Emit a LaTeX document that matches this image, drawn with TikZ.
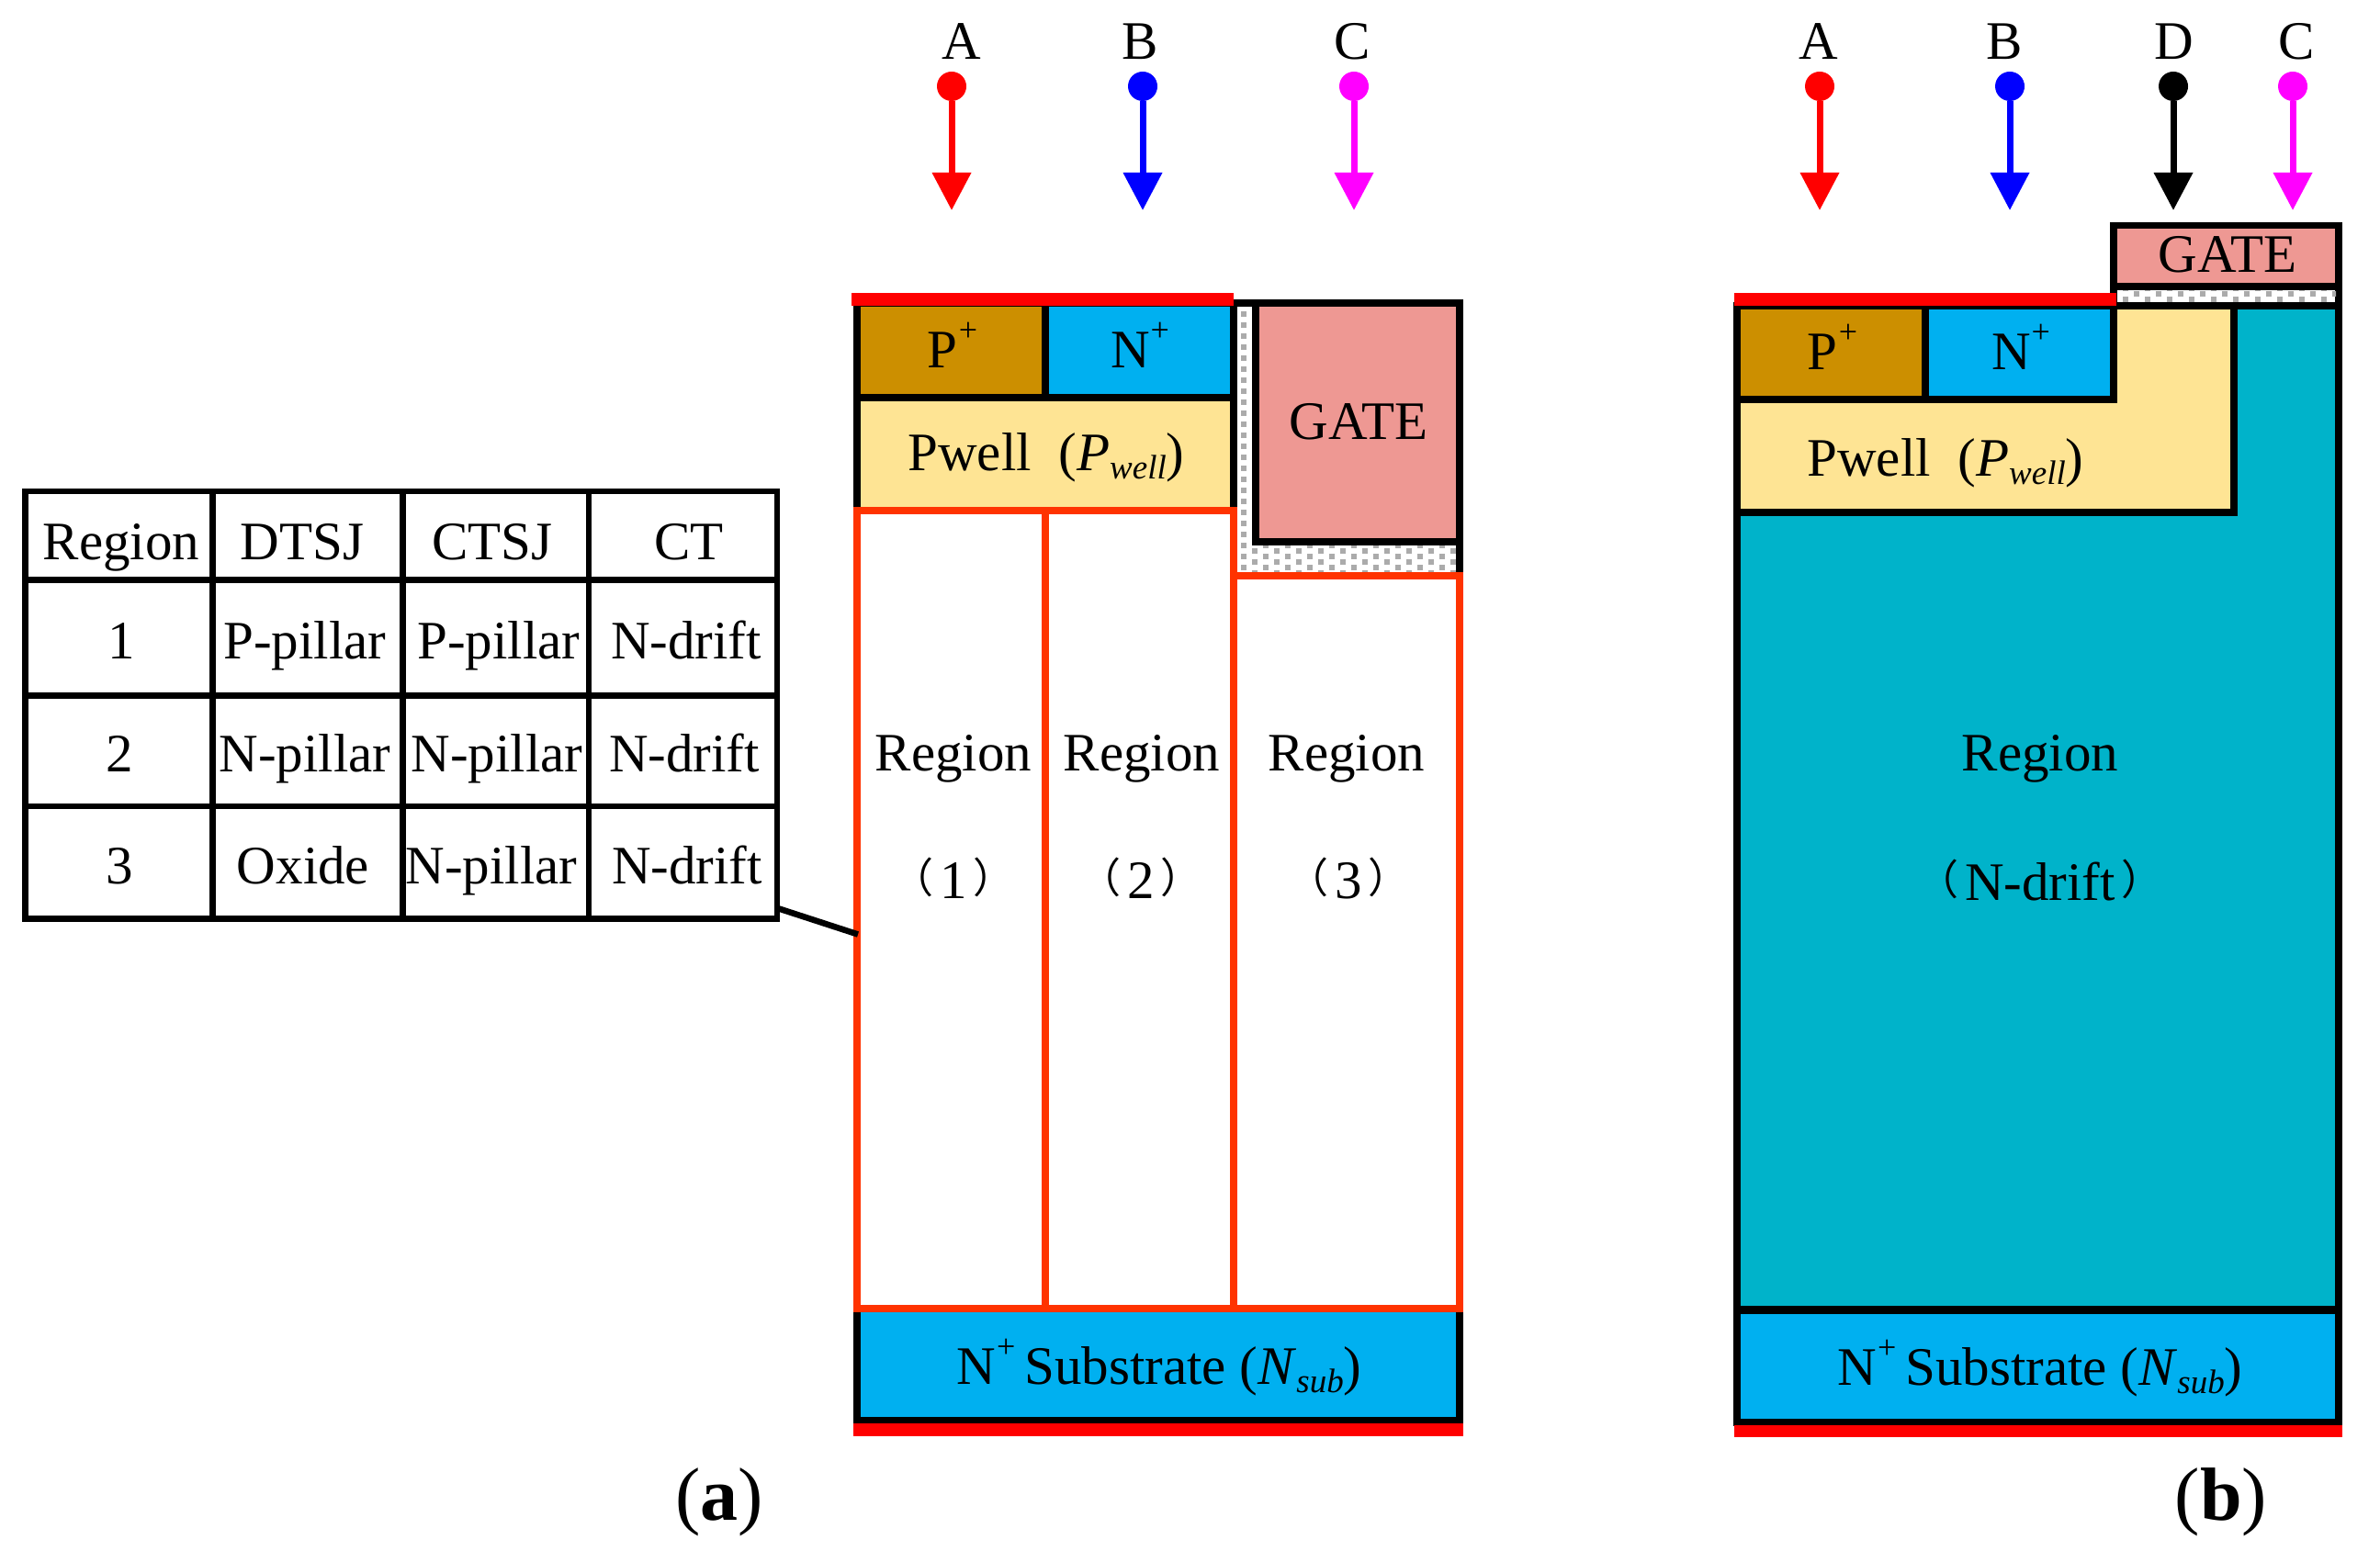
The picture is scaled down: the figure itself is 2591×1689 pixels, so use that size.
\documentclass[tikz,border=0pt]{standalone}
\usepackage{fontspec}
\setmainfont{Liberation Serif}
\newfontfamily\cjk{Noto Sans CJK SC}
\usetikzlibrary{arrows.meta}

\definecolor{pplus}{HTML}{CC8F00}
\definecolor{nplus}{HTML}{00B0F0}
\definecolor{pwellc}{HTML}{FEE494}
\definecolor{gatec}{HTML}{EE9893}
\definecolor{driftc}{HTML}{00B3CA}
\definecolor{regionc}{HTML}{FF3300}
\definecolor{oxdot}{HTML}{ABABAB}
\definecolor{probeC}{HTML}{FF00FF}

\tikzset{
  lab/.style={anchor=base,inner sep=0pt,outer sep=0pt,font=\fontsize{29.5}{32}\selectfont},
  figcap/.style={lab,font=\fontsize{41}{44}\selectfont},
  layer/.style={draw=black,line width=3.6pt},
  redline/.style={draw=regionc,line width=3.6pt},
  tablegrid/.style={draw=black,line width=3.3pt,line cap=rect},
}

\newcommand{\probeArrow}[5]{% #1: name, #2: color, #3: x of arrow
                            % #4: letter, #5: x of letter
    \node (dot_#1) [circle,fill=#2,inner sep=0pt,minimum size=16pt] at (#3,94) {};
    \coordinate (tip_#1) at (#3,229);
    \draw[#2,line width=3.5pt,-{Triangle[length=20.5pt,width=20.5pt]}] (dot_#1)--(tip_#1);
    \node (lab_#1) [lab] at (#5,65) {#4};
}
\newcommand{\supplus}{\hspace{.5pt}\raisebox{14.5pt}{\fontsize{18}{18}\selectfont +}}
\newcommand{\subtxt}[2]{\raisebox{-#2}{\fontsize{18.5}{18.5}\selectfont\itshape #1}}
\newcommand{\fwparen}[1]{\raisebox{3pt}{\cjk\fontsize{22.5}{24}\selectfont #1}}
\newcommand{\fwtext}[1]{\fwparen{（}\hspace{3.5pt}#1\hspace{3.5pt}\fwparen{）}}

\begin{document}
\begin{tikzpicture}[x=.5pt,y=-.5pt]
\useasboundingbox (0,0) rectangle (2591,1689);

%%% table
\foreach \x in {27.5,231.5,438.5,641,846} \draw[tablegrid] (\x,535)--(\x,1000.5);
\foreach \y in {535,631.5,757.5,878,1000.5} \draw[tablegrid] (27.5,\y)--(846,\y);

\node (t_head1) [lab] at (132,610) {Region};
\node (t_head2) [lab] at (329,610) {DTSJ};
\node (t_head3) [lab] at (536,610) {CTSJ};
\node (t_head4) [lab] at (750,610) {CT};
\node (t_row11) [lab] at (132,717.5) {1};
\node (t_row12) [lab] at (332,717.5) {P-pillar};
\node (t_row13) [lab] at (543,717.5) {P-pillar};
\node (t_row14) [lab] at (747,717.5) {N-drift};
\node (t_row21) [lab] at (130,840) {2};
\node (t_row22) [lab] at (332,840) {N-pillar};
\node (t_row23) [lab] at (541,840) {N-pillar};
\node (t_row24) [lab] at (745,840) {N-drift};
\node (t_row31) [lab] at (130,962) {3};
\node (t_row32) [lab] at (330,962) {Oxide};
\node (t_row33) [lab] at (535,962) {N-pillar};
\node (t_row34) [lab] at (748,962) {N-drift};

%%% device (a)
\begin{scope}
\clip (1346,333) rectangle (1586,624);
\foreach \i in {0,...,9} \foreach \j in {0,...,24} {
  \fill[oxdot] ({1351+24*\i},{339+12*\j}) rectangle ++(6,6);
  \fill[oxdot] ({1363+24*\i},{345+12*\j}) rectangle ++(6,6);
}
\end{scope}
\draw[layer] (1343,330)--(1589,330)--(1589,627);
\draw[layer,fill=gatec] (1367,330) rectangle (1589,590);
\draw[layer,fill=pwellc] (933,433) rectangle (1343,556);
\draw[layer,fill=pplus] (933,330) rectangle (1138,433);
\draw[layer,fill=nplus] (1138,330) rectangle (1343,433);
\draw[layer,fill=nplus] (933,1425) rectangle (1589,1547);
\draw[redline] (933,556) rectangle (1138,1425);
\draw[redline] (1138,556) rectangle (1343,1425);
\draw[redline] (1343,627) rectangle (1589,1425);
\fill[red] (927,319) rectangle (1343,333);
\fill[red] (929,1550) rectangle (1593,1564);

\node (a_pplus) [lab] at (1037,401) {P\supplus};
\node (a_nplus) [lab] at (1241,401) {N\supplus};
\node (a_pwell) [lab] at (1139,513) {Pwell\ \ (\textit{P}\subtxt{well}{4.5pt})};
\node (a_gate) [lab] at (1479,479) {GATE};
\node (a_reg1) [lab] at (1038,839) {Region};
\node (a_reg2) [lab] at (1243,839) {Region};
\node (a_reg3) [lab] at (1466,839) {Region};
\node (a_num1) [lab] at (1038,978) {\fwtext{1}};
\node (a_num2) [lab] at (1242,978) {\fwtext{2}};
\node (a_num3) [lab] at (1468,978) {\fwtext{3}};
\node (a_sub) [lab] at (1262,1507) {N\supplus\hspace{5pt}Substrate (\textit{N}\subtxt{sub}{4.5pt})};
\node (a_cap) [figcap] at (783,1655) {(\textbf{a})};

\probeArrow{a1}{red}{1036}{A}{1047}
\probeArrow{a2}{blue}{1244}{B}{1241}
\probeArrow{a3}{probeC}{1474}{C}{1472}

%%% leader line
\coordinate (t_corner) at (848,989.5);
\coordinate (reg_side) at (934,1017.5);
\draw[black,line width=3.3pt] (t_corner)--(reg_side);

%%% device (b)
\draw[layer,fill=driftc] (1891,333) rectangle (2546,1426);
\draw[layer,fill=pwellc] (2301,333)--(2432,333)--(2432,558)--(1891,558)--(1891,435)--(2301,435)--cycle;
\draw[layer,fill=pplus] (1891,333) rectangle (2096,435);
\draw[layer,fill=nplus] (2096,333) rectangle (2301,435);
\draw[layer,fill=nplus] (1891,1426) rectangle (2546,1549);
\draw[black,line width=4.5pt] (1888,1426.5)--(2549,1426.5);
\draw[layer,fill=white] (2301,312) rectangle (2546,333);
\begin{scope}
\clip (2304,316) rectangle (2543,329);
\foreach \i in {0,...,10} {
  \fill[oxdot] ({2311+24*\i},323) rectangle ++(6,6);
  \fill[oxdot] ({2323+24*\i},317) rectangle ++(6,6);
  \fill[oxdot] ({2311+24*\i},311) rectangle ++(6,6);
}
\end{scope}
\draw[layer,fill=gatec] (2301,245.5) rectangle (2546,312);
\fill[red] (1888,319) rectangle (2304,333);
\fill[red] (1888,1552) rectangle (2550,1565);

\node (b_pplus) [lab] at (1995,403) {P\supplus};
\node (b_nplus) [lab] at (2200,403) {N\supplus};
\node (b_pwell) [lab] at (2118,519) {Pwell\ \ (\textit{P}\subtxt{well}{4.5pt})};
\node (b_gate) [lab] at (2425,297) {GATE};
\node (b_reg) [lab] at (2221,839) {Region};
\node (b_num) [lab] at (2221,980) {\fwtext{N-drift}};
\node (b_sub) [lab] at (2221,1508) {N\supplus\hspace{5pt}Substrate (\textit{N}\subtxt{sub}{4.5pt})};
\node (b_cap) [figcap] at (2418,1655) {(\textbf{b})};

\probeArrow{b1}{red}{1981}{A}{1980}
\probeArrow{b2}{blue}{2188}{B}{2182}
\probeArrow{b3}{black}{2366}{D}{2367}
\probeArrow{b4}{probeC}{2496}{C}{2500}

\end{tikzpicture}
\end{document}
